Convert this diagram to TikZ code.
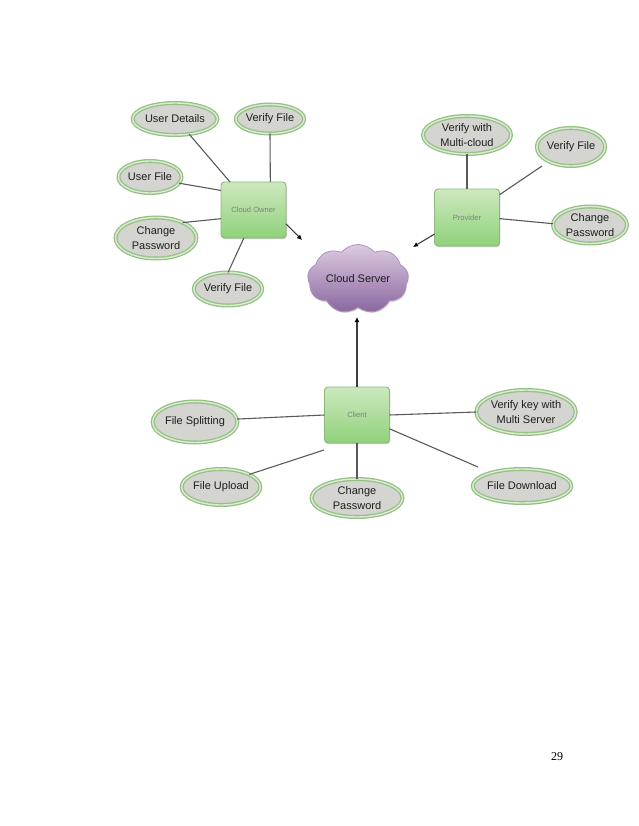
\documentclass[tikz,border=0pt]{standalone}
\usepackage{fontspec}
\setmainfont{Liberation Sans}
\newfontfamily\pagefont{Liberation Serif}
\usetikzlibrary{shapes.geometric,shapes.symbols,shadows,arrows.meta}
\definecolor{ringgreen}{HTML}{94C184}
\definecolor{ringpale}{HTML}{DCEAD6}
\definecolor{ovalgrey}{HTML}{D4D4D0}
\definecolor{boxtop}{HTML}{CDE8BF}
\definecolor{boxbot}{HTML}{8FD27A}
\definecolor{boxedge}{HTML}{8DB97C}
\definecolor{cloudtop}{HTML}{DCCBE0}
\definecolor{cloudbot}{HTML}{8A669F}
\definecolor{linegrey}{HTML}{5A5A5A}
\definecolor{inktext}{HTML}{1E1E1E}
\tikzset{
  x=1pt,y=-1pt,
  oval/.style={ellipse,draw=ringgreen,double=ringpale,double distance=1.4pt,line width=1.3pt,fill=ovalgrey,
    inner sep=0pt,outer sep=0pt,align=center,font=\fontsize{11}{15}\selectfont,text=inktext,
    drop shadow={shadow xshift=0.8pt,shadow yshift=-1.2pt,opacity=.35,fill=black!60}},
  actor/.style={rectangle,rounded corners=3.5pt,draw=boxedge,line width=0.9pt,top color=boxtop,bottom color=boxbot,
    inner sep=0pt,outer sep=0pt,minimum width=65pt,minimum height=56pt,font=\fontsize{7.6}{9}\selectfont,text=black!50,
    drop shadow={shadow xshift=0.8pt,shadow yshift=-1.2pt,opacity=.3,fill=black!60}},
  link/.style={draw=linegrey,line width=1.1pt},
  flow/.style={draw=linegrey!70!black,line width=1.1pt,-{Latex[length=5pt,width=5pt,black]}}
}
\begin{document}
\begin{tikzpicture}
\useasboundingbox[fill=white] (0,0) rectangle (638,826);
% Cloud server
\node[cloud,cloud puffs=9,cloud puff arc=100,cloud ignores aspect,draw=cloudbot!70,line width=0.8pt,
  top color=cloudtop,bottom color=cloudbot,inner sep=0pt,minimum width=101pt,minimum height=69pt,
  font=\fontsize{11}{14}\selectfont,text=inktext,
  drop shadow={shadow xshift=0.6pt,shadow yshift=-1.2pt,opacity=.25,fill=black!60}] (srv) at (358,279) {Cloud Server};
% Actors
\node[actor] (owner) at (253.5,210) {Cloud Owner};
\node[actor,minimum height=57pt] (prov) at (467,217.5) {Provider};
\node[actor] (client) at (357,415) {Client};
% Owner attributes
\node[oval,minimum width=76pt,minimum height=32pt] (ud) at (175,119) {User Details};
\node[oval,minimum width=63pt,minimum height=29pt] (vf1) at (270,119) {Verify File};
\node[oval,minimum width=63pt,minimum height=32pt] (uf) at (150,177) {User File};
\node[oval,minimum width=81pt,minimum height=41pt] (cp1) at (156,238) {Change\\Password};
\node[oval,minimum width=61pt,minimum height=33pt] (vf2) at (228,289) {Verify File};
% Provider attributes
\node[oval,minimum width=88pt,minimum height=38pt] (vm) at (467,135) {Verify with\\Multi-cloud};
\node[oval,minimum width=63pt,minimum height=38pt] (vf3) at (571,147) {Verify File};
\node[oval,minimum width=74pt,minimum height=37pt] (cp2) at (590,225) {Change\\Password};
% Client attributes
\node[oval,minimum width=82pt,minimum height=41pt] (fs) at (195,422) {File Splitting};
\node[oval,minimum width=69pt,minimum height=36pt] (fu) at (221,487) {File Upload};
\node[oval,minimum width=91pt,minimum height=38pt] (cp3) at (357,498) {Change\\Password};
\node[oval,minimum width=94pt,minimum height=44pt] (vk) at (526,412) {Verify key with\\Multi Server};
\node[oval,minimum width=94pt,minimum height=34pt] (fd) at (522,486) {File Download};
% Free ends
\coordinate (ownerTip) at (302,240);
\coordinate (provTip) at (413,247);
\coordinate (srvTip) at (357,317);
\coordinate (vf3End) at (542,166);
\coordinate (fuEnd) at (324,450);
\coordinate (fdEnd) at (478,467);
% Connectors
\path[link] (ud.-47) -- (owner.130);
\path[link] (vf1.south) -- (owner.59.5);
\path[link] (uf.-12) -- (owner.149.5);
\path[link] (cp1.30) -- (owner.195.5);
\path[link] (vf2.north) -- (owner.251);
\path[link] (vm.south) -- (prov.north);
\path[link] (prov.35) -- (vf3End);
\path[link] (prov.-2) -- (cp2.178);
\path[link] (fs.4) -- (client.west);
\path[link] (fu.24) -- (fuEnd);
\path[link] (client.south) -- (cp3.north);
\path[link] (client.east) -- (vk.west);
\path[link] (client.-23) -- (fdEnd);
\path[flow] (owner.-23) -- (ownerTip);
\path[flow] (prov.207) -- (provTip);
\path[flow] (client.north) -- (srvTip);
% Page number
\node[font=\pagefont\fontsize{12}{14}\selectfont,text=black,inner sep=0pt] (pg) at (557,757) {29};
\end{tikzpicture}
\end{document}
